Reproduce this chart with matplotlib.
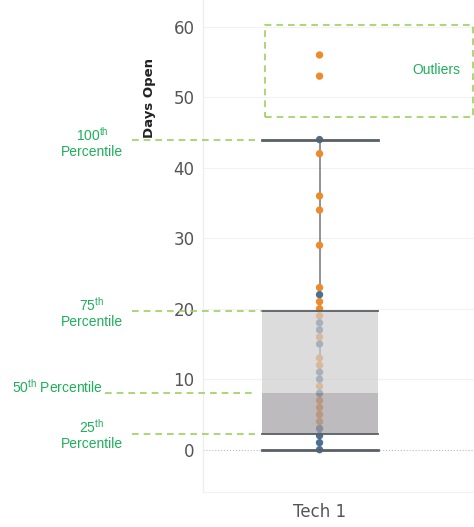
import matplotlib
matplotlib.use("Agg")
import matplotlib.pyplot as plt
import matplotlib.transforms as mtransforms
from matplotlib.patches import Rectangle

# Data
days_open = [56, 53, 44, 42, 36, 34, 29, 23, 22, 21, 20, 19, 18, 17, 16, 15,
             13, 12, 11, 10, 9, 8, 7, 6, 5, 4, 3, 2, 1, 0]
group = ["o", "o", "b", "o", "o", "o", "o", "o", "b", "o", "o", "o", "b", "b", "o", "b",
         "o", "o", "b", "b", "o", "b", "o", "o", "o", "o", "b", "b", "b", "b"]
category = "Tech 1"
q_min, q1, median, q3, q_max = 0, 2.2, 8.0, 19.7, 44
colors = {"o": "#ee8a2c", "b": "#4e6f91"}

plt.rcParams["mathtext.fontset"] = "custom"
plt.rcParams["mathtext.rm"] = "Liberation Sans"

fig = plt.figure(figsize=(4.74, 5.27), dpi=100)
ax = fig.add_axes([203 / 474, 35 / 527, 271 / 474, 492 / 527])
ax.set_xlim(0, 1)
ax.set_ylim(-6, 63.8)

xc = 0.43
bl, br = 0.218, 0.646

# whisker line and points
ax.plot([xc, xc], [q_min, q_max], color="#808080", lw=1.2, zorder=1)
ax.scatter([xc] * len(days_open), days_open, c=[colors[g] for g in group],
           s=28, zorder=2, linewidths=0)

# box (drawn on top, semi-transparent)
ax.add_patch(Rectangle((bl, median), br - bl, q3 - median, color="#cecece",
                       alpha=0.7, lw=0, zorder=3))
ax.add_patch(Rectangle((bl, q1), br - bl, median - q1, color="#a39ea3",
                       alpha=0.7, lw=0, zorder=3))
for yv, lw in [(q1, 1.3), (q3, 1.3), (q_min, 2), (q_max, 2)]:
    ax.plot([bl, br], [yv, yv], color="#5a5f66", lw=lw, zorder=4)

# axes styling
ax.set_yticks([0, 10, 20, 30, 40, 50, 60])
ax.set_xticks([xc])
ax.set_xticklabels([category])
ax.tick_params(axis="both", length=0, labelsize=12, labelcolor="#555555")
ax.tick_params(axis="y", pad=6)
ax.tick_params(axis="x", pad=8)
for yv in [10, 20, 30, 40, 50, 60]:
    ax.axhline(yv, color="#f2f2f2", lw=0.8, zorder=0)
ax.axhline(0, color="#bbbbbb", lw=0.8, ls=":", zorder=0)
for s in ["top", "right"]:
    ax.spines[s].set_visible(False)
ax.spines["left"].set_color("#ececec")
ax.spines["bottom"].set_color("#f2f2f2")

fig.text(149 / 474, 1 - 98 / 527, "Days Open", rotation=90, ha="center",
         va="center", fontsize=9.5, fontweight="bold", color="#222222")

# annotations
green = "#1db05a"
lgreen = "#9cd15c"
trans = mtransforms.blended_transform_factory(ax.transAxes, ax.transData)
dash = dict(color=lgreen, lw=1.2, ls=(0, (4, 3)), transform=trans,
            clip_on=False, zorder=5)
ax.plot([-0.262, 0.192], [q_max, q_max], **dash)
ax.plot([-0.262, bl], [q3, q3], **dash)
ax.plot([-0.362, 0.185], [median, median], **dash)
ax.plot([-0.262, 0.192], [q1, q1], **dash)

ax.add_patch(Rectangle((0.23, 47.2), 0.765, 13.1, fill=False, ec=lgreen,
                       lw=1.2, ls=(0, (4, 3)), transform=trans, clip_on=False))
ax.text(0.862, 53.8, "Outliers", transform=trans, ha="center", va="center",
        fontsize=10, color=green, family="Liberation Sans")

labels = [(92, 142, "100$^{\\mathrm{th}}$\nPercentile"),
          (92, 312, "75$^{\\mathrm{th}}$\nPercentile"),
          (92, 434, "25$^{\\mathrm{th}}$\nPercentile")]
for px, py, t in labels:
    fig.text(px / 474, 1 - py / 527, t, ha="center", va="center", fontsize=10,
             color=green, family="Liberation Sans", linespacing=1.1)
fig.text(58 / 474, 1 - 387 / 527, "50$^{\\mathrm{th}}$ Percentile", ha="center",
         va="center", fontsize=10, color=green, family="Liberation Sans")

fig.savefig("out.png", dpi=100)
